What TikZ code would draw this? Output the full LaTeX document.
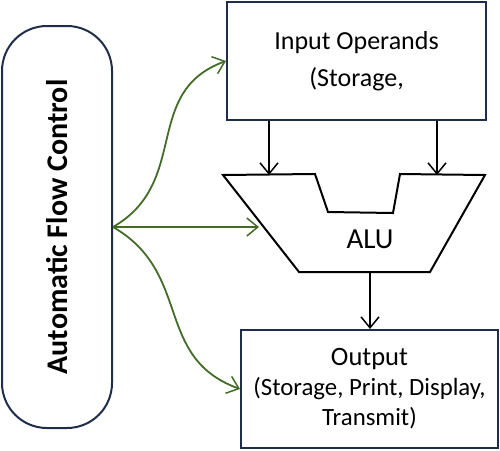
\documentclass[tikz,border=0pt]{standalone}
\usepackage{fontspec}
\setmainfont{Carlito}
\usetikzlibrary{arrows.meta}

\definecolor{boxline}{RGB}{30,45,74}
\definecolor{flowgreen}{RGB}{66,108,40}

\begin{document}
\begin{tikzpicture}[
  x = 1pt, y = -1pt,
  > = {Straight Barb[length=11pt,width=18pt,line width=1.5pt]},
  blockbox/.style = {draw=boxline,line width=2pt,align=center},
  ctrlbox/.style = {draw=boxline,line width=2pt,rounded corners=45pt,minimum width=110pt,minimum height=402pt,inner sep=0pt},
  flow/.style = {->,draw=flowgreen,line width=1.8pt},
  data/.style = {->,line width=2pt}
  ]
  \useasboundingbox (0,0) rectangle (500,450);

  \node[ctrlbox] (afc) at (57,227) {\rotatebox{90}{\fontsize{30}{34}\selectfont\bfseries Automatic Flow Control}};
  \node[blockbox,minimum width=259pt,minimum height=118pt,font=\fontsize{26}{37}\selectfont] (inp) at (356.5,61) {Input Operands\\(Storage,};
  \node[blockbox,minimum width=257pt,minimum height=118pt,font=\fontsize{24.8}{30}\selectfont] (out) at (369.5,389) {{\fontsize{26.5}{30}\selectfont Output}\\(Storage, Print, Display,\\Transmit)};

  % ALU outline
  \draw[line width=2pt,line join=miter] (223,175) -- (315,174) -- (328,212) -- (393,213) -- (400,174)
    -- (485,175) -- (430,272) -- (299,272) -- cycle;
  \node[font=\fontsize{29}{32}\selectfont] (alu) at (370,239) {ALU};
  \coordinate (alu-a) at (269,175);
  \coordinate (alu-b) at (437,175);
  \coordinate (alu-l) at (259,227);
  \coordinate (alu-o) at (370,272);

  \draw[data] (inp.south -| alu-a) -- (alu-a);
  \draw[data] (inp.south -| alu-b) -- (alu-b);
  \draw[data] (alu-o) -- (out.north -| alu-o);

  \draw[flow] (afc.east) to[out=30,in=200,looseness=1.15] (inp.west);
  \draw[flow] (afc.east) -- (alu-l);
  \draw[flow] (afc.east) to[out=-30,in=160,looseness=1.15] (out.west);
\end{tikzpicture}
\end{document}
